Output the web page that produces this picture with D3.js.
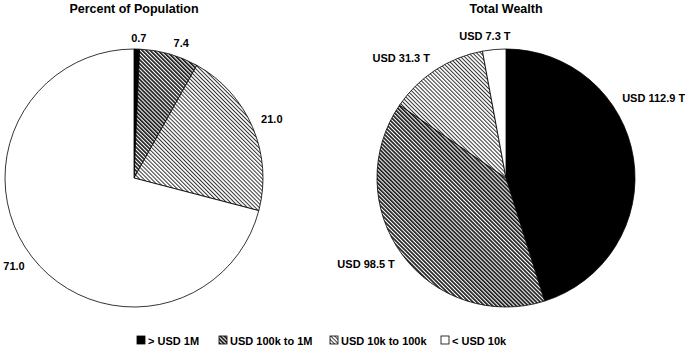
<!DOCTYPE html>
<html>
<head>
<meta charset="utf-8">
<script src="https://cdn.jsdelivr.net/npm/d3@7"></script>
<style>
body { margin: 0; background: #fff; overflow: hidden; }
text { font-family: "Liberation Sans", Arial, sans-serif; font-weight: bold; fill: #000; }
</style>
</head>
<body>
<script>
// categories and values
const categories = ['> USD 1M', 'USD 100k to 1M', 'USD 10k to 100k', '< USD 10k'];
const popValues = [0.7, 7.4, 21.0, 71.0];
const popLabels = ['0.7', '7.4', '21.0', '71.0'];
const wealthValues = [112.9, 98.5, 31.3, 7.3];
const wealthLabels = ['USD 112.9 T', 'USD 98.5 T', 'USD 31.3 T', 'USD 7.3 T'];
const titles = ['Percent of Population', 'Total Wealth'];

const width = 685, height = 348;
const radius = 129;

const svg = d3.select('body').append('svg')
    .attr('width', width)
    .attr('height', height);

const defs = svg.append('defs');

function makeHatch(id, lineWidth, color) {
    const size = 2.8;
    const p = defs.append('pattern')
        .attr('id', id)
        .attr('patternUnits', 'userSpaceOnUse')
        .attr('width', size)
        .attr('height', size)
        .attr('patternTransform', 'rotate(-45)');
    p.append('rect').attr('width', size).attr('height', size).attr('fill', '#fff');
    p.append('rect').attr('width', lineWidth).attr('height', size).attr('fill', color);
}
makeHatch('hatchDark', 1.7, '#1a1a1a');
makeHatch('hatchLight', 1.0, '#333');

const fills = d3.scaleOrdinal()
    .domain(categories)
    .range(['#000', 'url(#hatchDark)', 'url(#hatchLight)', '#fff']);

// small angle nudges (degrees) mimicking the label placement of the original
const charts = [
    {cx: 134, values: popValues, labels: popLabels, title: titles[0], nudge: [0.7, 3.5, 0, 1.5]},
    {cx: 506, values: wealthValues, labels: wealthLabels, title: titles[1], nudge: [-19.6, 4.8, -8.2, -3.2]}
];
const cy = 178;

const pie = d3.pie().sort(null).value(d => d.value);
const arc = d3.arc().innerRadius(0).outerRadius(radius);

charts.forEach(function (c) {
    const g = svg.append('g').attr('transform', 'translate(' + c.cx + ',' + cy + ')');
    const data = c.values.map((v, i) => ({value: v, cat: categories[i], label: c.labels[i], nudge: c.nudge[i]}));
    const arcs = pie(data);

    g.selectAll('path.slice')
        .data(arcs)
        .enter().append('path')
        .attr('class', 'slice')
        .attr('d', arc)
        .attr('fill', d => fills(d.data.cat))
        .attr('stroke', '#000')
        .attr('stroke-width', 0.8);

    g.selectAll('text.lbl')
        .data(arcs)
        .enter().append('text')
        .attr('class', 'lbl')
        .style('font-size', '11px')
        .attr('text-anchor', 'middle')
        .attr('dy', '0.35em')
        .text(d => d.data.label)
        .each(function (d) {
            const w = this.getComputedTextLength();
            const a = (d.startAngle + d.endAngle) / 2 + d.data.nudge * Math.PI / 180;
            const r = 140 + (w / 2) * Math.abs(Math.sin(a));
            d3.select(this)
                .attr('x', r * Math.sin(a))
                .attr('y', -r * Math.cos(a));
        });

    svg.append('text')
        .attr('x', c.cx)
        .attr('y', 13)
        .attr('text-anchor', 'middle')
        .style('font-size', '12.5px')
        .text(c.title);
});

// legend
const legendXs = [137, 219, 330, 441];
const legend = svg.selectAll('g.legend')
    .data(categories)
    .enter().append('g')
    .attr('class', 'legend')
    .attr('transform', (d, i) => 'translate(' + legendXs[i] + ',336)');

legend.append('rect')
    .attr('width', 8)
    .attr('height', 8)
    .attr('fill', d => fills(d))
    .attr('stroke', '#000')
    .attr('stroke-width', 0.8);

legend.append('text')
    .attr('x', 11)
    .attr('y', 8.5)
    .style('font-size', '11px')
    .text(d => d);
</script>
</body>
</html>
